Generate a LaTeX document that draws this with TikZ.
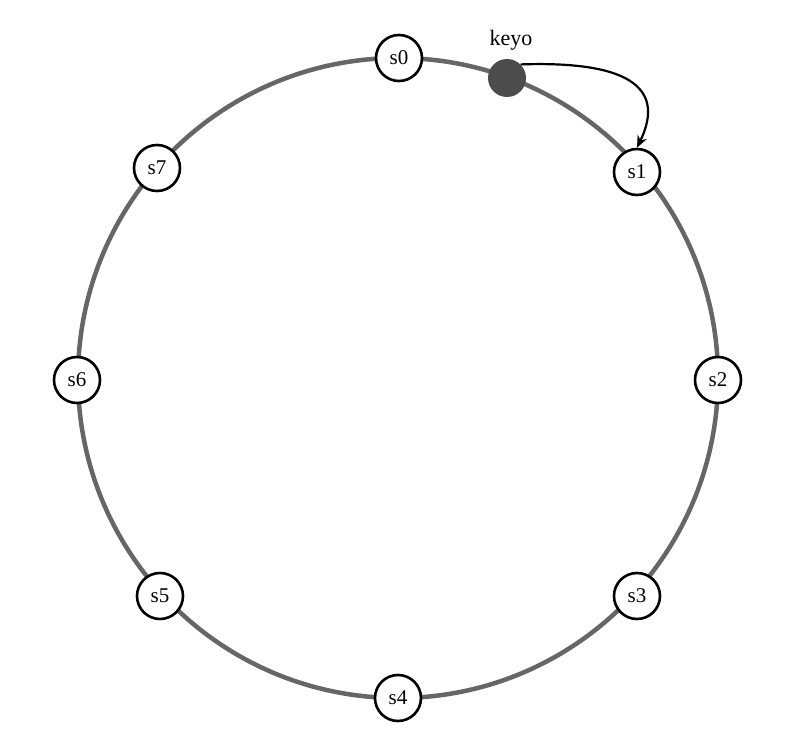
\documentclass[tikz,border=0pt]{standalone}
\usepackage{fontspec}
\setmainfont{Liberation Serif}
\usetikzlibrary{arrows.meta}
\begin{document}
\begin{tikzpicture}[x=1pt,y=-1pt,
  srv/.style={circle,draw=black,line width=2.6pt,fill=white,minimum size=46pt,inner sep=0pt,font=\fontsize{21}{21}\selectfont},
  ring/.style={draw=black!60,line width=4.5pt}]
\useasboundingbox (0,0) rectangle (790,746);
\draw[ring] (398,378) circle (320);
\node[srv] (s0) at (399,58) {s0};
\node[srv] (s1) at (637,172) {s1};
\node[srv] (s2) at (718,380) {s2};
\node[srv] (s3) at (637,596) {s3};
\node[srv] (s4) at (398,698) {s4};
\node[srv] (s5) at (160,596) {s5};
\node[srv] (s6) at (77,380) {s6};
\node[srv] (s7) at (157,168) {s7};
\node[circle,fill=black!70,minimum size=38pt,inner sep=0pt] (k) at (507,78) {};
\node[font=\fontsize{22}{22}\selectfont] (kl) at (511,40) {keyo};
\draw[line width=2.2pt,-{Stealth[length=12pt,width=10pt]}] (k.north east) ..controls (650,60) and (660,100) .. (s1.north);
\end{tikzpicture}
\end{document}
